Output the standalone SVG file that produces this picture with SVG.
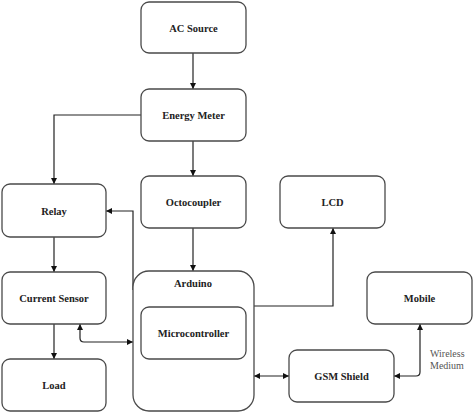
<svg xmlns="http://www.w3.org/2000/svg" width="474" height="413" viewBox="0 0 474 413">
<style>
.box{fill:#fff;stroke:#4a4a4a;stroke-width:1.3}
.lbl{font-family:"Liberation Serif","Times New Roman",serif;font-weight:bold;font-size:10.5px;fill:#222;text-anchor:middle;dominant-baseline:central}
.note{font-family:"Liberation Serif","Times New Roman",serif;font-size:10px;fill:#555}
.c{fill:none;stroke:#222;stroke-width:1.2}
</style>
<defs>
<marker id="ah" viewBox="0 0 10 10" refX="10" refY="5" markerWidth="6" markerHeight="6" orient="auto-start-reverse" markerUnits="userSpaceOnUse">
<path d="M0,0 L10,5 L0,10 z" fill="#111"/>
</marker>
</defs>
<rect width="474" height="413" fill="#fff"/>
<g id="connectors">
<path class="c" d="M193,53 V89" marker-end="url(#ah)"/>
<path class="c" d="M141,115 H54 V184" marker-end="url(#ah)"/>
<path class="c" d="M193,141 V176" marker-end="url(#ah)"/>
<path class="c" d="M54,237 V272" marker-end="url(#ah)"/>
<path class="c" d="M54,324 V359" marker-end="url(#ah)"/>
<path class="c" d="M133,290 V211 H106" marker-end="url(#ah)"/>
<path class="c" d="M193,228 V271" marker-end="url(#ah)"/>
<path class="c" d="M80,324 V338 Q80,342 84,342 H133" marker-start="url(#ah)" marker-end="url(#ah)"/>
<path class="c" d="M254,306 H333 V228" marker-end="url(#ah)"/>
<path class="c" d="M254,376 H289" marker-start="url(#ah)" marker-end="url(#ah)"/>
<path class="c" d="M394,376 H416 Q420,376 420,372 V324" marker-start="url(#ah)" marker-end="url(#ah)"/>
</g>
<g id="ac-source"><rect class="box" x="141" y="2" width="105" height="51" rx="8"/><text class="lbl" x="193.5" y="28">AC Source</text></g>
<g id="energy-meter"><rect class="box" x="141" y="89" width="105" height="52" rx="8"/><text class="lbl" x="193.5" y="115">Energy Meter</text></g>
<g id="relay"><rect class="box" x="2" y="184" width="104" height="53" rx="8"/><text class="lbl" x="54" y="211">Relay</text></g>
<g id="octocoupler"><rect class="box" x="141" y="176" width="105" height="52" rx="8"/><text class="lbl" x="193.5" y="202">Octocoupler</text></g>
<g id="lcd"><rect class="box" x="280" y="176" width="105" height="52" rx="8"/><text class="lbl" x="332.5" y="202">LCD</text></g>
<g id="current-sensor"><rect class="box" x="2" y="272" width="104" height="52" rx="8"/><text class="lbl" x="54" y="298">Current Sensor</text></g>
<g id="arduino"><rect class="box" x="133" y="271" width="121" height="140" rx="16"/><text class="lbl" x="193" y="283">Arduino</text></g>
<g id="microcontroller"><rect class="box" x="141" y="307" width="105" height="52" rx="8"/><text class="lbl" x="193.5" y="333">Microcontroller</text></g>
<g id="mobile"><rect class="box" x="367" y="272" width="105" height="52" rx="8"/><text class="lbl" x="419.5" y="298">Mobile</text></g>
<g id="load"><rect class="box" x="2" y="359" width="104" height="52" rx="8"/><text class="lbl" x="54" y="385">Load</text></g>
<g id="gsm-shield"><rect class="box" x="289" y="350" width="105" height="52" rx="8"/><text class="lbl" x="341.5" y="376">GSM Shield</text></g>
<text class="note" x="430" y="357">Wireless</text>
<text class="note" x="430" y="369">Medium</text>
</svg>
